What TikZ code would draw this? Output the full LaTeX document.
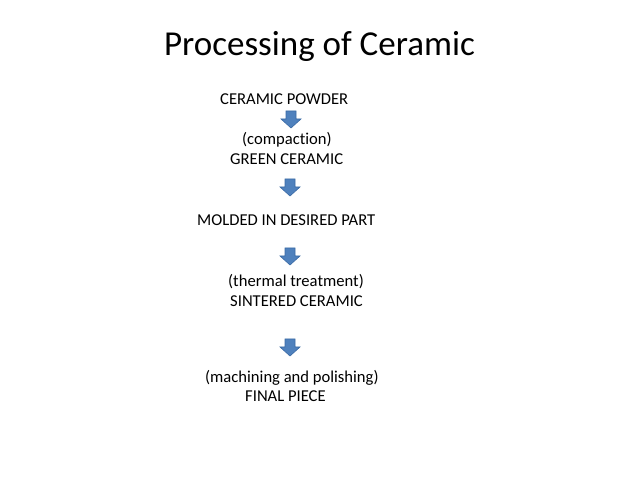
\documentclass[tikz,border=0pt]{standalone}
\usepackage{fontspec}
\setmainfont{Carlito}[Ligatures={NoCommon}]
\definecolor{arrowfill}{HTML}{4F81BD}
\definecolor{arrowline}{HTML}{3A6AA5}
\tikzset{
  txt/.style={inner sep=0pt, anchor=base west, font=\fontsize{16.6}{20}\selectfont, text=black},
  ttl/.style={inner sep=0pt, anchor=base, font=\fontsize{35}{42}\selectfont, text=black},
  downarrow/.pic={
    \filldraw[fill=arrowfill, draw=arrowline, line width=0.6pt, line join=miter]
      (-5,0) -- (5,0) -- (5,8) -- (10,8) -- (0,17) -- (-10,8) -- (-5,8) -- cycle;
  }
}
\begin{document}
\begin{tikzpicture}[x=1pt,y=-1pt]
\fill[white] (0,0) rectangle (638,478);
\useasboundingbox (0,0) rectangle (638,478);
\node[ttl] (title) at (319.5,56) {Processing of Ceramic};
\node[txt] (powder) at (220,105) {CERAMIC POWDER};
\pic (a1) at (291,111) {downarrow};
\node[txt] (compaction) at (242,145) {(compaction)};
\node[txt] (green) at (230,165) {GREEN CERAMIC};
\pic (a2) at (290,179) {downarrow};
\node[txt] (molded) at (197,226) {MOLDED IN DESIRED PART};
\pic (a3) at (290,248) {downarrow};
\node[txt] (thermal) at (228,287) {(thermal treatment)};
\node[txt] (sintered) at (230,307) {SINTERED CERAMIC};
\pic (a4) at (290,339) {downarrow};
\node[txt] (machining) at (205,383) {(machining and polishing)};
\node[txt] (final) at (245,402) {FINAL PIECE};
\end{tikzpicture}
\end{document}
